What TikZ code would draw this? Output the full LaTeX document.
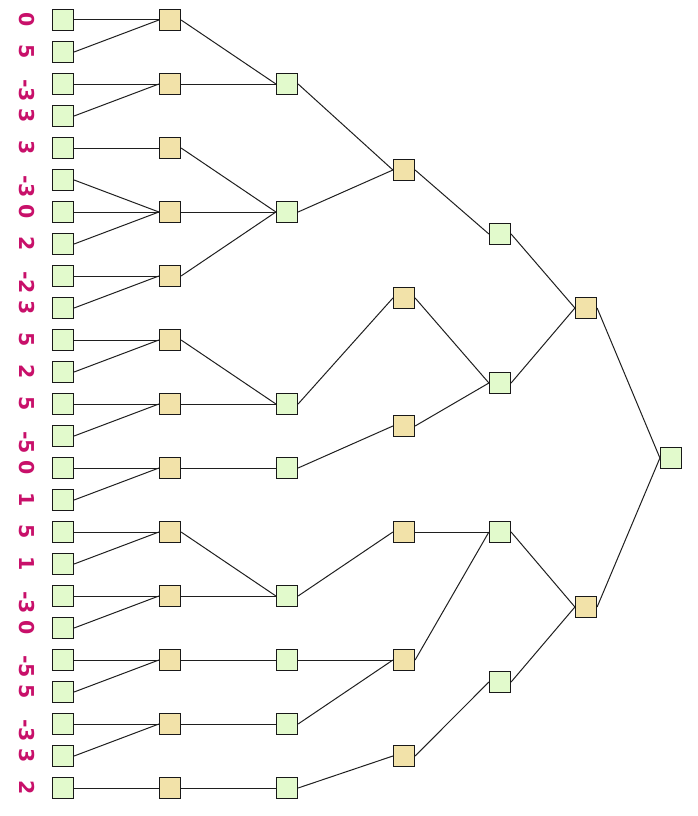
\documentclass[tikz,border=0pt]{standalone}
\usepackage{fontspec}
\newfontfamily\numfont{DejaVu Sans}
\usepackage{xcolor}
\usepackage{tikz}
\usetikzlibrary{positioning}
\definecolor{maxfill}{HTML}{E2FACC}
\definecolor{minfill}{HTML}{F2E2A9}
\definecolor{numcol}{HTML}{C8106A}

\begin{document}
\begin{tikzpicture}[x=1pt, y=-1pt,
  maxbox/.style={draw=black!90, fill=maxfill, line width=1.2pt,
    minimum size=21pt, inner sep=0pt},
  minbox/.style={maxbox, fill=minfill},
  num/.style={font=\numfont\bfseries\fontsize{20.5}{20.5}\selectfont,
    text=numcol, rotate=-90, inner sep=0pt},
  edge/.style={line width=1pt, draw=black!88}]
  \useasboundingbox (0,0) rectangle (698,816);
  % leaves with their values
  \foreach \v [count=\i from 0] in {0,5,-3,3,3,-3,0,2,-2,3,5,2,5,-5,0,1,5,1,-3,0,-5,5,-3,3,2} {
    \pgfmathsetmacro\sh{\v<0 ? 6.5 : 0}
    \node[maxbox] (a\i) at (63,20+32*\i) {};
    \node[num] (v\i) at (27,20+32*\i+\sh) {\v};
  }
  % min level
  \node[minbox] (b0) at (170,20) {};
  \node[minbox] (b1) at (170,84) {};
  \node[minbox] (b2) at (170,148) {};
  \node[minbox] (b3) at (170,212) {};
  \node[minbox] (b4) at (170,276) {};
  \node[minbox] (b5) at (170,340) {};
  \node[minbox] (b6) at (170,404) {};
  \node[minbox] (b7) at (170,468) {};
  \node[minbox] (b8) at (170,532) {};
  \node[minbox] (b9) at (170,596) {};
  \node[minbox] (b10) at (170,660) {};
  \node[minbox] (b11) at (170,724) {};
  \node[minbox] (b12) at (170,788) {};
  % max level
  \node[maxbox] (c0) at (287,84) {};
  \node[maxbox] (c1) at (287,212) {};
  \node[maxbox] (c2) at (287,404) {};
  \node[maxbox] (c3) at (287,468) {};
  \node[maxbox] (c4) at (287,596) {};
  \node[maxbox] (c5) at (287,660) {};
  \node[maxbox] (c6) at (287,724) {};
  \node[maxbox] (c7) at (287,788) {};
  % min level
  \node[minbox] (d0) at (404,170) {};
  \node[minbox] (d1) at (404,298) {};
  \node[minbox] (d2) at (404,426) {};
  \node[minbox] (d3) at (404,532) {};
  \node[minbox] (d4) at (404,660) {};
  \node[minbox] (d5) at (404,756) {};
  % max level
  \node[maxbox] (e0) at (500,234) {};
  \node[maxbox] (e1) at (500,383) {};
  \node[maxbox] (e2) at (500,532) {};
  \node[maxbox] (e3) at (500,682) {};
  % min level and root
  \node[minbox] (f0) at (586,308) {};
  \node[minbox] (f1) at (586,607) {};
  \node[maxbox] (root) at (671,458) {};
  % connectors, child to parent
  \foreach \c/\p in {a0/b0, a1/b0, a2/b1, a3/b1, a4/b2, a5/b3, a6/b3, a7/b3,
      a8/b4, a9/b4, a10/b5, a11/b5, a12/b6, a13/b6, a14/b7, a15/b7,
      a16/b8, a17/b8, a18/b9, a19/b9, a20/b10, a21/b10, a22/b11, a23/b11, a24/b12,
      b0/c0, b1/c0, b2/c1, b3/c1, b4/c1, b5/c2, b6/c2, b7/c3,
      b8/c4, b9/c4, b10/c5, b11/c6, b12/c7,
      c0/d0, c1/d0, c2/d1, c3/d2, c4/d3, c5/d4, c6/d4, c7/d5,
      d0/e0, d1/e1, d2/e1, d3/e2, d4/e2, d5/e3,
      e0/f0, e1/f0, e2/f1, e3/f1, f0/root, f1/root}
    \draw[edge] (\c.east) -- (\p.west);
\end{tikzpicture}
\end{document}
